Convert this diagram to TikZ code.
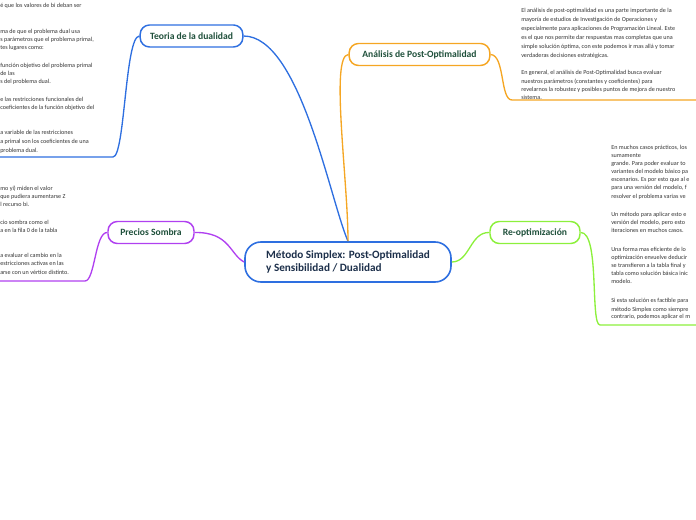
\documentclass[tikz,border=0pt]{standalone}
\usepackage{fontspec}
\setmainfont{Carlito}
\definecolor{cb}{HTML}{2E6FE0}
\definecolor{cp}{HTML}{B040F0}
\definecolor{co}{HTML}{F5A623}
\definecolor{cg}{HTML}{8CF03C}
\definecolor{tg}{HTML}{1E4F3A}
\definecolor{tn}{HTML}{1C2F4A}
\definecolor{tx}{HTML}{333333}
\begin{document}
\begin{tikzpicture}[x=0.75pt,y=-0.75pt,
  topic/.style={draw,rounded corners=7pt,line width=1.1pt,minimum height=16.5pt,font=\fontsize{7.2}{8}\selectfont\bfseries,text=tg,inner xsep=6pt},
  sm/.style={anchor=base west,inner sep=0pt,font=\fontsize{4.6}{5}\selectfont,text=tx},
  ln/.style={line width=1pt}]
\useasboundingbox (0,0) rectangle (696,520);
% central
\node[draw=cb,line width=1.2pt,rounded corners=12pt,minimum width=154.5pt,minimum height=30pt,align=left,font=\fontsize{8.4}{10}\selectfont\bfseries,text=tn,inner xsep=8pt] (c) at (348,262) {Método Simplex: Post-Optimalidad\\y Sensibilidad / Dualidad};
\node[topic,draw=cb,minimum width=77pt] (t) at (191.5,36) {Teoria de la dualidad};
\node[topic,draw=cp,minimum width=64.5pt] (p) at (151,232.5) {Precios Sombra};
\node[topic,draw=co,minimum width=105.5pt] (a) at (419.5,54.5) {Análisis de Post-Optimalidad};
\node[topic,draw=cg,minimum width=67.5pt] (r) at (535,232.5) {Re-optimización};
% main connectors
\draw[cb,ln] (t.east) .. controls (300,36) and (330,200) .. (c.north);
\draw[co,ln] (c.north) .. controls (348,180) and (330,55) .. (a.west);
\draw[cp,ln] (p.east) .. controls (230,232) and (230,255) .. (c.west);
\draw[cg,ln] (c.east) .. controls (470,262) and (470,232) .. (r.west);
% sub connectors
\coordinate (t1) at (113,157); \coordinate (t0) at (0,157);
\draw[cb,ln] (t.west) .. controls (125,36) and (125,157) .. (t1) -- (t0);
\coordinate (p1) at (85,281); \coordinate (p0) at (0,281);
\draw[cp,ln] (p.west) .. controls (95,232) and (95,281) .. (p1) -- (p0);
\coordinate (a1) at (512,100); \coordinate (a2) at (696,100);
\draw[co,ln] (a.east) .. controls (505,55) and (500,100) .. (a1) -- (a2);
\coordinate (r1) at (600,325); \coordinate (r2) at (696,325);
\draw[cg,ln] (r.east) .. controls (600,232) and (590,325) .. (r1) -- (r2);
% left texts
\node[sm] at (0,8) {é que los valores de bi deban ser};
\node[sm] at (0,34) {ma de que el problema dual usa};
\node[sm] at (0,42) {s parámetros que el problema primal,};
\node[sm] at (0,50) {tes lugares como:};
\node[sm] at (0,68) {función objetivo del problema primal};
\node[sm] at (0,76) {de las};
\node[sm] at (0,84) {s del problema dual.};
\node[sm] at (0,102) {e las restricciones funcionales del};
\node[sm] at (0,110) {coeficientes de la función objetivo del};
\node[sm] at (0,135) {a variable de las restricciones};
\node[sm] at (0,144) {a primal son los coeficientes de una};
\node[sm] at (0,153) {problema dual.};
\node[sm] at (0,191) {mo yi) miden el valor};
\node[sm] at (0,199) {que pudiera aumentarse Z};
\node[sm] at (0,207) {l recurso bi.};
\node[sm] at (0,225) {cio sombra como el};
\node[sm] at (0,233) {a en la fila 0 de la tabla};
\node[sm] at (0,258) {a evaluar el cambio en la};
\node[sm] at (0,266) {estricciones activas en las};
\node[sm] at (0,275) {arse con un vértice distinto.};
% Analisis texts
\node[sm] at (521,13) {El análisis de post-optimalidad es una parte importante de la};
\node[sm] at (521,22) {mayoría de estudios de Investigación de Operaciones y};
\node[sm] at (521,31) {especialmente para aplicaciones de Programación Lineal. Este};
\node[sm] at (521,40) {es el que nos permite dar respuestas mas completas que una};
\node[sm] at (521,49) {simple solución óptima, con este podemos ir mas allá y tomar};
\node[sm] at (521,58) {verdaderas decisiones estratégicas.};
\node[sm] at (521,75) {En general, el análisis de Post-Optimalidad busca evaluar};
\node[sm] at (521,84) {nuestros parámetros (constantes y coeficientes) para};
\node[sm] at (521,92) {revelarnos la robustez y posibles puntos de mejora de nuestro};
\node[sm] at (521,100) {sistema.};
% Reopt texts
\node[sm] at (611,150) {En muchos casos prácticos, los};
\node[sm] at (611,158) {sumamente};
\node[sm] at (611,166) { grande. Para poder evaluar to};
\node[sm] at (611,174) {variantes del modelo básico pa};
\node[sm] at (611,182) {escenarios. Es por esto que al e};
\node[sm] at (611,190) {para una versión del modelo, f};
\node[sm] at (611,199) {resolver el problema varias ve};
\node[sm] at (611,217) {Un método para aplicar esto e};
\node[sm] at (611,225) {versión del modelo, pero esto};
\node[sm] at (611,233) {iteraciones en muchos casos.};
\node[sm] at (611,252) {Una forma mas eficiente de lo};
\node[sm] at (611,260) {optimización envuelve deducir};
\node[sm] at (611,268) {se transfieren a la tabla final y};
\node[sm] at (611,276) {tabla como solución básica inic};
\node[sm] at (611,284) {modelo.};
\node[sm] at (611,302) {Si esta solución es factible para};
\node[sm] at (611,311) {método Simplex como siempre};
\node[sm] at (611,319) {contrario, podemos aplicar el m};
\end{tikzpicture}
\end{document}
